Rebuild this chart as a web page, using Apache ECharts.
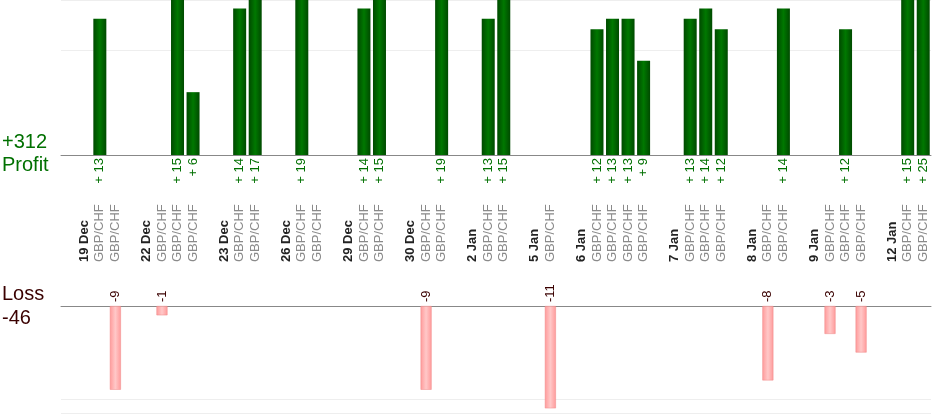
<!DOCTYPE html>
<html><head><meta charset="utf-8">
<script src="https://cdn.jsdelivr.net/npm/echarts@6/dist/echarts.min.js"></script>
<style>html,body{margin:0;padding:0;background:#fff}#c{width:934px;height:420px}</style>
</head><body><div id="c"></div>
<script>
const G = 'GBP/CHF';
const slots = ['', '19 Dec',G,G,'', '22 Dec',G,G,G,'', '23 Dec',G,G,'', '26 Dec',G,G,'', '29 Dec',G,G,'', '30 Dec',G,G,'', '2 Jan',G,G,'', '5 Jan',G,'', '6 Jan',G,G,G,G,'', '7 Jan',G,G,G,'', '8 Jan',G,G,'', '9 Jan',G,G,G,'', '12 Jan',G,G];
const profit = [null,null,13,null,null,null,null,15,6,null,null,14,17,null,null,19,null,null,null,14,15,null,null,null,19,null,null,13,15,null,null,null,null,null,12,13,13,9,null,null,13,14,12,null,null,null,14,null,null,null,12,null,null,null,15,25];
const loss = [null,null,null,9,null,null,1,null,null,null,null,null,null,null,null,null,null,null,null,null,null,null,null,9,null,null,null,null,null,null,null,11,null,null,null,null,null,null,null,null,null,null,null,null,null,8,null,null,null,3,null,5,null,null,null,null];
const totalProfit = '+312', totalLoss = '-46';

const isDate = s => s !== '' && s !== G;
const chart = echarts.init(document.getElementById('c'));
const font = 'Liberation Sans, Arial, sans-serif';
chart.setOption({
  animation: false,
  textStyle: {fontFamily: font},
  grid: [
    {left: 61, width: 870, top: 0, height: 155},
    {left: 61, width: 870, top: 306, height: 107}
  ],
  graphic: [
    {type: 'text', left: 2, top: 132, style: {text: totalProfit, fill: '#007000', font: '20px ' + font}},
    {type: 'text', left: 2, top: 155, style: {text: 'Profit', fill: '#007000', font: '20px ' + font}},
    {type: 'text', left: 2, top: 284, style: {text: 'Loss', fill: '#3a0000', font: '20px ' + font}},
    {type: 'text', left: 2, top: 308, style: {text: totalLoss, fill: '#3a0000', font: '20px ' + font}}
  ],
  xAxis: [
    {type: 'category', gridIndex: 0, data: slots, position: 'bottom',
     axisLine: {lineStyle: {color: '#888'}}, axisTick: {show: false},
     axisLabel: {interval: 0, rotate: 90, margin: 3, fontSize: 13, color: '#007000',
       formatter: (v, i) => profit[i] == null ? '' : '+ ' + profit[i]}},
    {type: 'category', gridIndex: 1, data: slots, position: 'top',
     axisLine: {lineStyle: {color: '#888'}}, axisTick: {show: false},
     axisLabel: {interval: 0, rotate: 90, margin: 44, fontSize: 13,
       formatter: v => v === '' ? '' : (isDate(v) ? '{d|' + v + '}' : '{g|' + v + '}'),
       rich: {d: {fontWeight: 'bold', color: '#222', fontSize: 13}, g: {color: '#8a8a8a', fontSize: 13}}}}
  ],
  yAxis: [
    {type: 'value', gridIndex: 0, min: 0, max: 14.8, interval: 10, axisLabel: {show: false},
     axisLine: {show: false}, axisTick: {show: false}, splitLine: {lineStyle: {color: '#eee'}}},
    {type: 'value', gridIndex: 1, min: 0, max: 11.5, interval: 10, inverse: true, axisLabel: {show: false},
     axisLine: {show: false}, axisTick: {show: false}, splitLine: {lineStyle: {color: '#eee'}}}
  ],
  series: [
    {type: 'bar', xAxisIndex: 0, yAxisIndex: 0, data: profit, barWidth: 13,
     itemStyle: {color: new echarts.graphic.LinearGradient(0, 0, 1, 0, [
       {offset: 0, color: '#004a00'}, {offset: 0.5, color: '#007800'}, {offset: 1, color: '#004a00'}])}},
    {type: 'bar', xAxisIndex: 1, yAxisIndex: 1, data: loss, barWidth: 11,
     itemStyle: {color: new echarts.graphic.LinearGradient(0, 0, 1, 0, [
       {offset: 0, color: '#ff9a9a'}, {offset: 0.5, color: '#ffc8c8'}, {offset: 1, color: '#ff9a9a'}]),
       borderColor: '#e88', borderWidth: 0.5},
     label: {show: true, position: 'top', rotate: 90, align: 'left', verticalAlign: 'middle', distance: 4,
       fontSize: 13, color: '#3a0000', formatter: p => '-' + p.value}}
  ]
});
</script></body></html>
